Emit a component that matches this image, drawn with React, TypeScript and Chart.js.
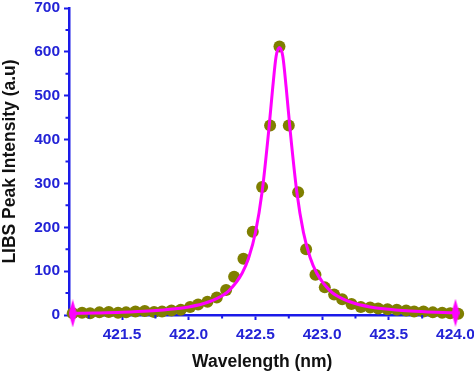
import React, { useEffect, useRef } from "react";
import { Chart, registerables } from "chart.js";

Chart.register(...registerables);

// Measured data points (wavelength nm, intensity a.u.)
const dotX = [421.13, 421.2, 421.26, 421.33, 421.4, 421.47, 421.53, 421.6, 421.67, 421.74, 421.8, 421.87, 421.94, 422.01, 422.07, 422.14, 422.21, 422.28, 422.34, 422.41, 422.48, 422.55, 422.61, 422.68, 422.75, 422.82, 422.88, 422.95, 423.02, 423.09, 423.15, 423.22, 423.29, 423.36, 423.42, 423.49, 423.56, 423.63, 423.69, 423.76, 423.83, 423.9, 423.96, 424.02];
const dotY = [4, 5, 4, 6, 7, 5, 6, 8, 9, 7, 8, 10, 12, 18, 24, 30, 40, 57, 87, 128, 190, 292, 432, 612, 432, 280, 150, 92, 63, 47, 36, 25, 18, 17, 15, 13, 12, 10, 8, 8, 6, 5, 4, 3];

// Fitted Lorentzian curve
const fitX = [421.13, 421.3, 421.5, 421.7, 421.9, 422.0, 422.1, 422.2, 422.3, 422.4, 422.45, 422.5, 422.55, 422.6, 422.63, 422.655, 422.68, 422.705, 422.73, 422.76, 422.81, 422.86, 422.91, 422.96, 423.06, 423.16, 423.26, 423.36, 423.46, 423.66, 423.86, 424.0];
const fitY = [3.6, 4.6, 6.2, 9.0, 14.1, 18.4, 25, 36, 55, 95, 131, 188, 281, 422, 520, 590, 610, 590, 520, 422, 281, 188, 131, 95, 55, 36, 25, 18.4, 14.1, 9.0, 6.2, 5.0];

const xMajorTicks = [421.5, 422.0, 422.5, 423.0, 423.5, 424.0];
const xMinorTicks = [421.25, 421.75, 422.25, 422.75, 423.25, 423.75];
const yMajorTicks = [0, 100, 200, 300, 400, 500, 600, 700];
const yMinorTicks = [50, 150, 250, 350, 450, 550, 650];

const xTitle = "Wavelength (nm)";
const yTitle = "LIBS Peak Intensity (a.u)";

const BLUE = "#1a1ae8";
const TICK_BLUE = "#2323d6";
const OLIVE = "#7f7f00";
const MAGENTA = "#ff00ff";
const FONT = "'Liberation Sans', Arial, sans-serif";

export default function App() {
  const ref = useRef<HTMLCanvasElement | null>(null);

  useEffect(() => {
    if (!ref.current) return;

    const marker = document.createElement("canvas");
    marker.width = 8;
    marker.height = 28;
    const mctx = marker.getContext("2d")!;
    mctx.fillStyle = MAGENTA;
    mctx.beginPath();
    mctx.moveTo(4, 0);
    mctx.lineTo(8, 14);
    mctx.lineTo(4, 28);
    mctx.lineTo(0, 14);
    mctx.closePath();
    mctx.fill();

    const minorTicks = {
      id: "minorTicks",
      afterDraw(chart: any) {
        const ctx = chart.ctx;
        const xs = chart.scales.x;
        const ys = chart.scales.y;
        const area = chart.chartArea;
        ctx.save();
        ctx.strokeStyle = BLUE;
        ctx.lineWidth = 2;
        ctx.beginPath();
        xMinorTicks.forEach((v) => {
          const px = xs.getPixelForValue(v);
          ctx.moveTo(px, area.bottom);
          ctx.lineTo(px, area.bottom + 3.5);
        });
        yMinorTicks.forEach((v) => {
          const py = ys.getPixelForValue(v);
          ctx.moveTo(area.left, py);
          ctx.lineTo(area.left - 3.5, py);
        });
        ctx.stroke();
        ctx.restore();
      },
    };

    const chart = new Chart(ref.current, {
      type: "scatter",
      data: {
        datasets: [
          {
            type: "line",
            label: "fit",
            data: fitX.map((x, i) => ({ x, y: fitY[i] })),
            borderColor: MAGENTA,
            backgroundColor: MAGENTA,
            borderWidth: 3,
            showLine: true,
            fill: false,
            cubicInterpolationMode: "monotone",
            pointStyle: marker as any,
            pointRadius: (c: any) => (c.dataIndex === 0 || c.dataIndex === fitX.length - 1 ? 5 : 0),
            clip: false as any,
            order: 0,
          } as any,
          {
            label: "data",
            data: dotX.map((x, i) => ({ x, y: dotY[i] })),
            backgroundColor: OLIVE,
            borderColor: OLIVE,
            borderWidth: 0,
            pointRadius: 6,
            showLine: false,
            clip: false as any,
            order: 1,
          } as any,
        ],
      },
      options: {
        animation: false,
        responsive: true,
        maintainAspectRatio: false,
        layout: { padding: 0 },
        plugins: {
          legend: { display: false },
          tooltip: { enabled: false },
        },
        scales: {
          x: {
            type: "linear",
            min: 421.102,
            max: 424.0,
            grid: {
              drawOnChartArea: false,
              drawTicks: true,
              tickLength: 5,
              tickWidth: 2,
              tickColor: BLUE,
            },
            border: { display: true, color: BLUE, width: 2.5 },
            ticks: {
              includeBounds: false,
              color: TICK_BLUE,
              padding: 5,
              maxRotation: 0,
              autoSkip: false,
              font: { family: FONT, size: 15.5, weight: "bold" },
              callback: (v: any) => Number(v).toFixed(1),
            },
            afterBuildTicks: (s: any) => {
              s.ticks = xMajorTicks.map((v) => ({ value: v }));
            },
            afterFit: (s: any) => {
              s.height = 56;
              s.paddingLeft = 0;
              s.paddingRight = 18.5;
            },
            title: {
              display: true,
              text: xTitle,
              color: "#111",
              padding: { top: 0, bottom: -1.5 },
              font: { family: FONT, size: 17.5, weight: "bold" },
            },
          },
          y: {
            type: "linear",
            min: 0,
            max: 700,
            grid: {
              drawOnChartArea: false,
              drawTicks: true,
              tickLength: 5,
              tickWidth: 2,
              tickColor: BLUE,
            },
            border: { display: true, color: BLUE, width: 2.5 },
            ticks: {
              color: TICK_BLUE,
              padding: 4,
              autoSkip: false,
              font: { family: FONT, size: 15.5, weight: "bold" },
            },
            afterBuildTicks: (s: any) => {
              s.ticks = yMajorTicks.map((v) => ({ value: v }));
            },
            afterFit: (s: any) => {
              s.width = 69;
              s.paddingTop = 6;
              s.paddingBottom = 0;
            },
            title: {
              display: true,
              text: yTitle,
              color: "#111",
              padding: 0,
              font: { family: FONT, size: 17.5, weight: "bold" },
            },
          },
        },
      },
      plugins: [minorTicks],
    } as any);

    return () => chart.destroy();
  }, []);

  return (
    <div style={{ position: "absolute", left: 0, top: 0, width: 474, height: 371, background: "#fff" }}>
      <canvas ref={ref} />
    </div>
  );
}
